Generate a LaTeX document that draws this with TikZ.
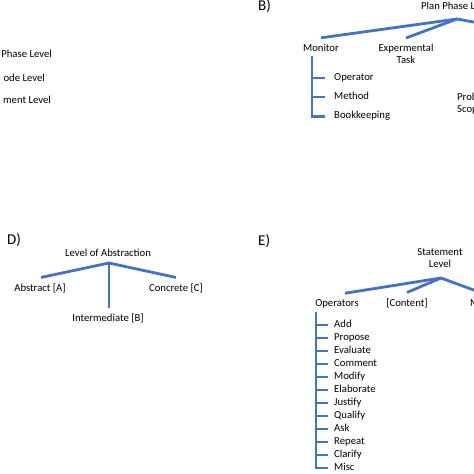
\documentclass[tikz,border=0pt]{standalone}
\usepackage{fontspec}
\setmainfont{Carlito}
\definecolor{lineblue}{RGB}{68,114,196}
\begin{document}
\begin{tikzpicture}[x=1pt,y=-1pt,
  txt/.style={font=\fontsize{10.7}{12}\selectfont, inner sep=0pt, text=black},
  panel/.style={font=\fontsize{15}{17}\selectfont, inner sep=0pt, anchor=mid west, text=black},
  conn/.style={draw=lineblue, line width=2.8pt}]
\useasboundingbox (0,0) rectangle (474,474);
\clip (0,0) rectangle (474,474);
% Panel A (cropped)
\node[txt, anchor=mid east] (a1) at (52,55) {Phase Level};
\node[txt, anchor=mid east] (a2) at (45,79) {ode Level};
\node[txt, anchor=mid east] (a3) at (51,101) {ment Level};
% Panel B
\node[panel] (lb) at (258,8.5) {B)};
\node[txt, anchor=mid west] (pp) at (421,7.5) {Plan Phase Level};
\coordinate (bap) at (457,19);
\node[txt, anchor=mid] (mon) at (321,49) {Monitor};
\node[txt, align=center, anchor=north] (exp) at (406,44) {Expermental\\Task};
\node[txt, align=left, anchor=north west] (prob) at (457,93) {Problem\\Scope};
\coordinate (bright) at (490,25);
\draw[conn] (bap) -- ([yshift=6pt]mon.north);
\draw[conn] (bap) -- ([yshift=6pt]exp.north);
\draw[conn] (bap) -- (bright);
\node[txt, anchor=mid west] (op) at (334,78) {Operator};
\node[txt, anchor=mid west] (me) at (334,97) {Method};
\node[txt, anchor=mid west] (bk) at (334,116.5) {Bookkeeping};
\coordinate (mtop) at (312,56);
\draw[conn] (mtop) |- ([xshift=-9pt]bk.mid west);
\draw[conn] (mtop |- op.mid west) -- ([xshift=-9pt]op.mid west);
\draw[conn] (mtop |- me.mid west) -- ([xshift=-9pt]me.mid west);
% Panel D
\node[panel] (ld) at (7,242) {D)};
\node[txt, anchor=mid] (loa) at (108,254) {Level of Abstraction};
\coordinate (dap) at (109,263);
\node[txt, anchor=mid] (abs) at (40,289) {Abstract [A]};
\node[txt, anchor=mid] (con) at (176,289) {Concrete [C]};
\node[txt, anchor=mid] (int) at (108,319) {Intermediate [B]};
\draw[conn] (dap) -- ([xshift=1pt,yshift=6pt]abs.north);
\draw[conn] (dap) -- ([yshift=6pt]con.north);
\draw[conn] (dap) -- ([xshift=1pt,yshift=5pt]int.north);
% Panel E
\node[panel] (le) at (258,243) {E)};
\node[txt, align=center, anchor=north] (stl) at (440,248) {Statement\\Level};
\coordinate (eap) at (441,278);
\node[txt, anchor=mid] (ops) at (337,304) {Operators};
\node[txt, anchor=mid] (cont) at (407,304) {[Content]};
\node[txt, anchor=mid west] (mm) at (470,304) {M};
\coordinate (eright) at (490,296);
\draw[conn] (eap) -- ([xshift=8pt,yshift=6pt]ops.north);
\draw[conn] (eap) -- ([yshift=6pt]cont.north);
\draw[conn] (eap) -- (eright);
\coordinate (etop) at (316,312);
\foreach \name/\lab [count=\i from 0] in {e0/Add,e1/Propose,e2/Evaluate,e3/Comment,e4/Modify,e5/Elaborate,e6/Justify,e7/Qualify,e8/Ask,e9/Repeat,e10/Clarify,e11/Misc}{
  \node[txt, anchor=mid west] (\name) at (334,325+13*\i) {\lab};
}
\draw[conn] (etop) |- ([xshift=-6pt]e11.mid west);
\foreach \name in {e0,e1,e2,e3,e4,e5,e6,e7,e8,e9,e10}{
  \draw[conn] (etop |- \name.mid west) -- ([xshift=-6pt]\name.mid west);
}
\end{tikzpicture}
\end{document}
